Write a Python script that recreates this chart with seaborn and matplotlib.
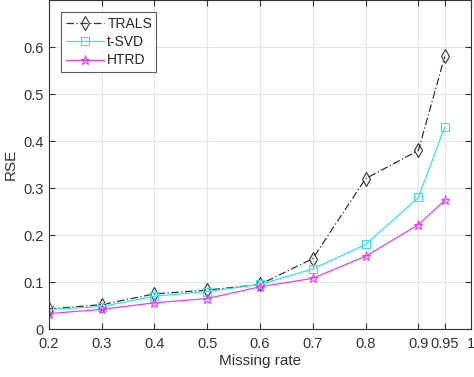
import numpy as np
import pandas as pd
import matplotlib
matplotlib.use("Agg")
import matplotlib.pyplot as plt
import seaborn as sns

missing_rate = [0.2, 0.3, 0.4, 0.5, 0.6, 0.7, 0.8, 0.9, 0.95]
trals = [0.043, 0.052, 0.075, 0.083, 0.095, 0.150, 0.320, 0.380, 0.580]
tsvd = [0.042, 0.048, 0.070, 0.080, 0.095, 0.128, 0.180, 0.280, 0.430]
htrd = [0.033, 0.042, 0.056, 0.065, 0.090, 0.108, 0.155, 0.222, 0.274]
series_names = ["TRALS", "t-SVD", "HTRD"]
xticks = [0.2, 0.3, 0.4, 0.5, 0.6, 0.7, 0.8, 0.9, 0.95, 1.0]
xticklabels = ["0.2", "0.3", "0.4", "0.5", "0.6", "0.7", "0.8", "0.9", "0.95", "1"]
yticks = [0, 0.1, 0.2, 0.3, 0.4, 0.5, 0.6]

df = pd.DataFrame({
    "Missing rate": missing_rate * 3,
    "RSE": trals + tsvd + htrd,
    "method": sum([[n] * len(missing_rate) for n in series_names], []),
})

sns.set_style("whitegrid")
plt.rcParams["font.family"] = ["Liberation Sans", "DejaVu Sans"]

fig = plt.figure(figsize=(4.74, 3.77), dpi=100)
ax = fig.add_axes([0.103, 0.127, 0.891, 0.873])

palette = {"TRALS": "#333333", "t-SVD": "#33e5e8", "HTRD": "#f03cf0"}
markers = {"TRALS": "d", "t-SVD": "s", "HTRD": "*"}
msizes = {"TRALS": 7, "t-SVD": 6, "HTRD": 6.5}
dashdot = (0, (6, 2, 1, 2))

for name in series_names:
    sub = df[df["method"] == name]
    sns.lineplot(data=sub, x="Missing rate", y="RSE", ax=ax, color=palette[name],
                 marker=markers[name], markersize=msizes[name],
                 markerfacecolor="none", markeredgecolor=palette[name],
                 markeredgewidth=0.8, linewidth=0.9, label=name)
    if name == "TRALS":
        ax.lines[-1].set_linestyle(dashdot)

ax.set_xlim(0.2, 1.0)
ax.set_ylim(0, 0.7)
ax.set_xticks(xticks)
ax.set_xticklabels(xticklabels)
ax.set_yticks(yticks)
ax.set_yticklabels(["0", "0.1", "0.2", "0.3", "0.4", "0.5", "0.6"])
ax.tick_params(direction="in", length=4, width=0.8, labelsize=10.5, colors="#333333",
               top=True, right=True, bottom=True, left=True)
ax.tick_params(axis="x", pad=6)
ax.set_xlabel("Missing rate", fontsize=11, color="#333333", labelpad=2)
ax.set_ylabel("RSE", fontsize=11, color="#333333")
ax.grid(True, color="#e6e6e6", linewidth=0.8)
for s in ax.spines.values():
    s.set_color("#333333")
    s.set_linewidth(0.8)

leg = ax.legend(loc="upper left", bbox_to_anchor=(0.02, 0.975), fontsize=10,
                frameon=True, fancybox=False, edgecolor="#333333", handlelength=2.8,
                borderpad=0.3, labelspacing=0.32, handletextpad=0.2, borderaxespad=0.3)
leg.get_frame().set_linewidth(0.8)
leg.get_lines()[0].set_linestyle(dashdot)

fig.savefig("out.png", dpi=100)
